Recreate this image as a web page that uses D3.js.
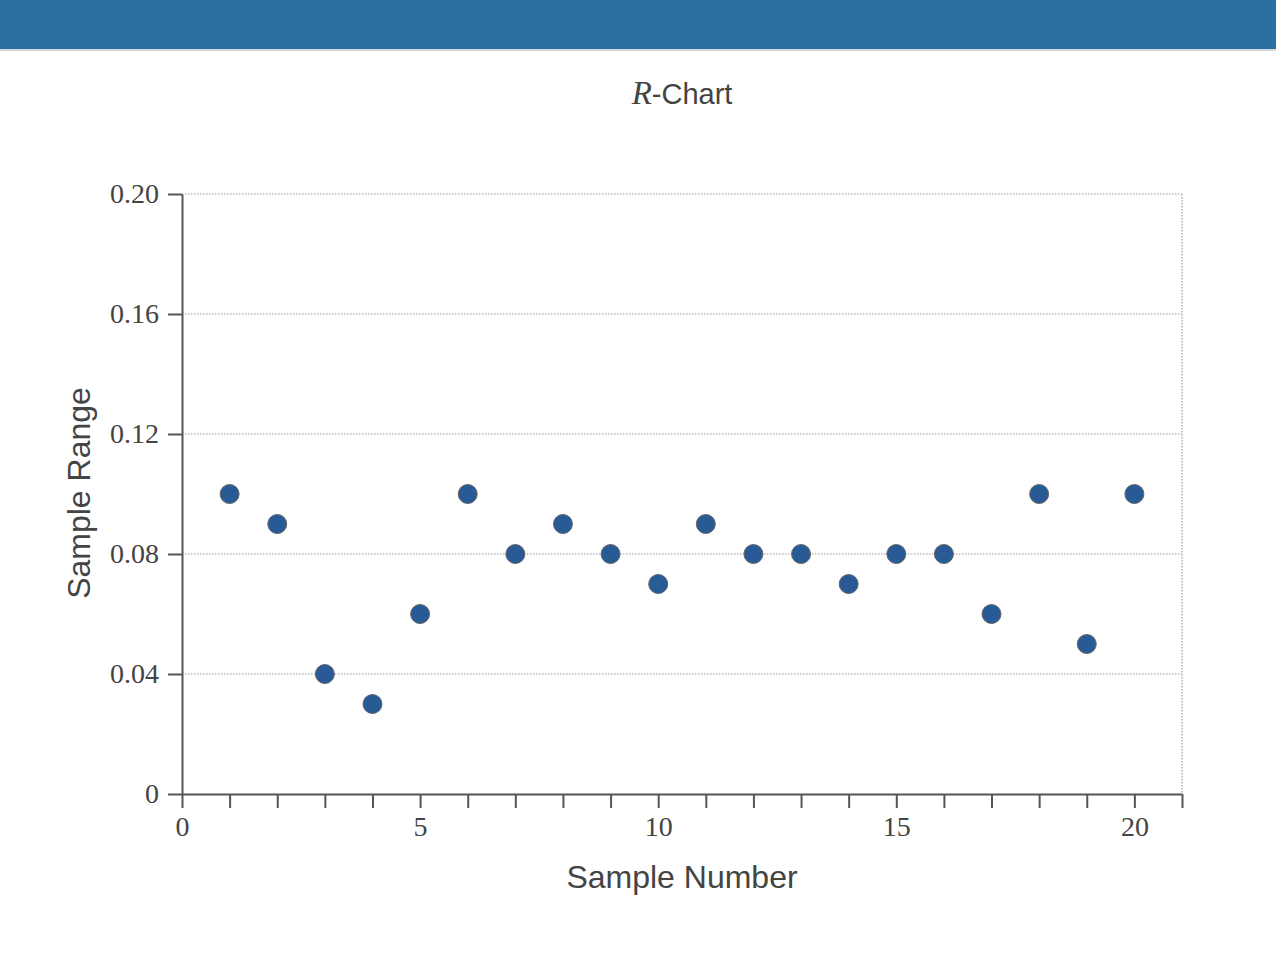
<!DOCTYPE html>
<html><head><meta charset="utf-8">
<script src="https://cdn.jsdelivr.net/npm/d3@7"></script>
<style>
html,body{margin:0;padding:0;background:#fff;}
#bar{position:absolute;left:0;top:0;width:1276px;height:49px;background:#2c70a1;border-bottom:2px solid #d3d9de;}
svg{position:absolute;left:0;top:0;}
</style></head>
<body>
<div id="bar"></div>
<svg id="chart" width="1276" height="964"></svg>
<script>
const sampleNumbers = [1,2,3,4,5,6,7,8,9,10,11,12,13,14,15,16,17,18,19,20];
const sampleRanges = [0.10,0.09,0.04,0.03,0.06,0.10,0.08,0.09,0.08,0.07,0.09,0.08,0.08,0.07,0.08,0.08,0.06,0.10,0.05,0.10];
const yTicks = [0,0.04,0.08,0.12,0.16,0.20];
const yTickLabels = ["0","0.04","0.08","0.12","0.16","0.20"];
const xTicks = d3.range(0,22);
const xTickLabels = {0:"0",5:"5",10:"10",15:"15",20:"20"};

const svg = d3.select("#chart");
const x = d3.scaleLinear().domain([0,21]).range([182,1182]);
const y = d3.scaleLinear().domain([0,0.2]).range([794,194]);

// grid
svg.append("g").selectAll("line").data(yTicks.slice(1)).join("line")
  .attr("x1",x(0)).attr("x2",x(21)).attr("y1",d=>y(d)).attr("y2",d=>y(d))
  .attr("stroke","#999").attr("stroke-width",1.2).attr("stroke-dasharray","1.5,1.5");
svg.append("line").attr("x1",x(21)).attr("x2",x(21)).attr("y1",y(0.2)).attr("y2",y(0))
  .attr("stroke","#999").attr("stroke-width",1.2).attr("stroke-dasharray","1.5,1.5");

// axes
const yAxis = svg.append("g").attr("transform",`translate(${x(0)},0)`)
  .call(d3.axisLeft(y).tickValues(yTicks).tickFormat((d,i)=>yTickLabels[i]).tickSize(14).tickSizeOuter(0).tickPadding(9));
const xAxis = svg.append("g").attr("transform",`translate(0,${y(0)})`)
  .call(d3.axisBottom(x).tickValues(xTicks).tickFormat(d=>xTickLabels[d]||"").tickSize(14).tickSizeOuter(0).tickPadding(8));
[xAxis,yAxis].forEach(g=>{
  g.selectAll("path,line").attr("stroke","#555").attr("stroke-width",2);
  g.selectAll("text").attr("fill","#444").attr("font-family","'Liberation Serif','Times New Roman',serif").attr("font-size",28);
});
yAxis.selectAll("text").attr("dy","0.3em");

// points
svg.append("g").selectAll("circle").data(sampleNumbers).join("circle")
  .attr("cx",d=>x(d)).attr("cy",(d,i)=>y(sampleRanges[i])).attr("r",9.5)
  .attr("fill","#285a95").attr("stroke","#666").attr("stroke-width",1);

// title
const t = svg.append("text").attr("x",682).attr("y",104).attr("text-anchor","middle")
  .attr("fill","#444").attr("font-size",29);
t.append("tspan").attr("font-family","'Liberation Serif',serif").attr("font-style","italic").attr("font-size",33).text("R");
t.append("tspan").attr("font-family","'Liberation Sans',Arial,sans-serif").text("-Chart");

// axis labels
svg.append("text").attr("x",682).attr("y",888).attr("text-anchor","middle")
  .attr("fill","#444").attr("font-family","'Liberation Sans',Arial,sans-serif").attr("font-size",32).text("Sample Number");
svg.append("text").attr("transform","translate(90,493) rotate(-90)").attr("text-anchor","middle")
  .attr("fill","#444").attr("font-family","'Liberation Sans',Arial,sans-serif").attr("font-size",32).text("Sample Range");
</script>
</body></html>
